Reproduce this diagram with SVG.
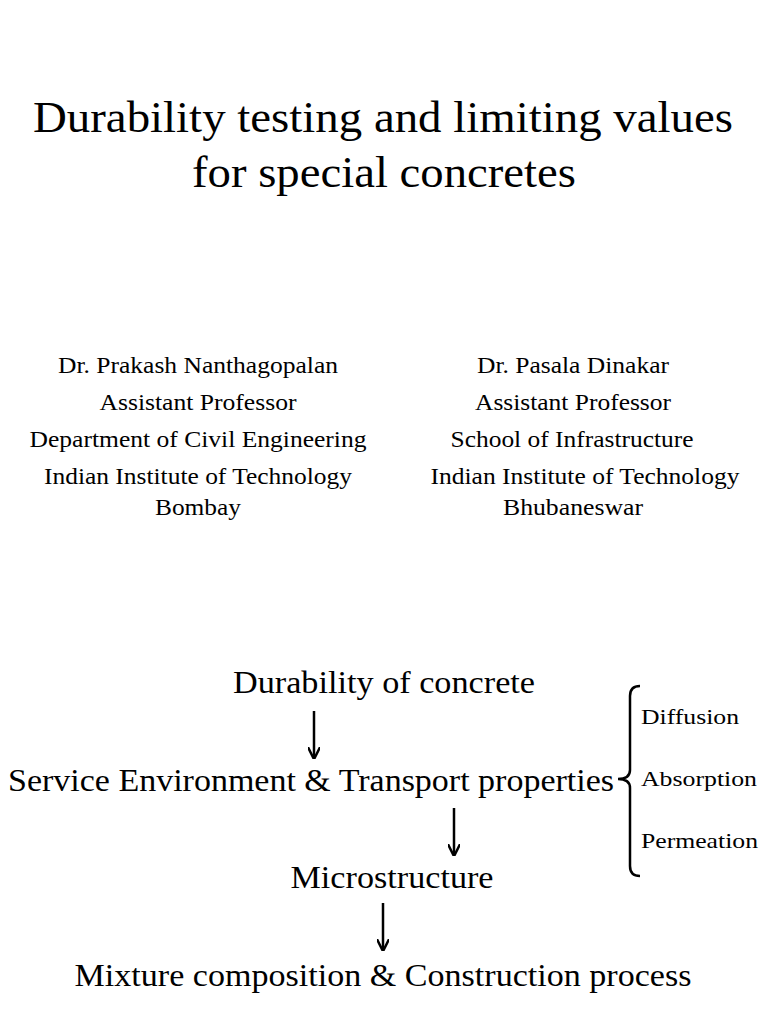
<svg xmlns="http://www.w3.org/2000/svg" width="768" height="1024" viewBox="0 0 768 1024">
<defs>
<style>
text{font-family:"Liberation Serif","Times New Roman",serif;fill:#000;text-anchor:middle}
.t{font-size:44px}.a{font-size:23.5px}.m{font-size:31px}.s{font-size:22px;text-anchor:start}
.c{stroke:#000;stroke-width:2.5;fill:none}
</style>
<marker id="ah" viewBox="0 0 10 10" refX="9" refY="5" markerWidth="5" markerHeight="5" orient="auto"><path d="M0,0 L10,5 L0,10" fill="none" stroke="#000" stroke-width="2"/></marker>
</defs>
<rect width="768" height="1024" fill="#fff"/>
<text class="t" x="383" y="132" textLength="700" lengthAdjust="spacingAndGlyphs">Durability testing and limiting values</text>
<text class="t" x="384" y="187" textLength="384" lengthAdjust="spacingAndGlyphs">for special concretes</text>
<g id="author1">
<text class="a" x="198" y="373" textLength="280" lengthAdjust="spacingAndGlyphs">Dr. Prakash Nanthagopalan</text>
<text class="a" x="198" y="410" textLength="197" lengthAdjust="spacingAndGlyphs">Assistant Professor</text>
<text class="a" x="198" y="447" textLength="337" lengthAdjust="spacingAndGlyphs">Department of Civil Engineering</text>
<text class="a" x="198" y="484" textLength="308" lengthAdjust="spacingAndGlyphs">Indian Institute of Technology</text>
<text class="a" x="198" y="515" textLength="86" lengthAdjust="spacingAndGlyphs">Bombay</text>
</g>
<g id="author2">
<text class="a" x="573" y="373" textLength="192" lengthAdjust="spacingAndGlyphs">Dr. Pasala Dinakar</text>
<text class="a" x="573" y="410" textLength="196" lengthAdjust="spacingAndGlyphs">Assistant Professor</text>
<text class="a" x="572" y="447" textLength="243" lengthAdjust="spacingAndGlyphs">School of Infrastructure</text>
<text class="a" x="585" y="484" textLength="309" lengthAdjust="spacingAndGlyphs">Indian Institute of Technology</text>
<text class="a" x="573" y="515" textLength="140" lengthAdjust="spacingAndGlyphs">Bhubaneswar</text>
</g>
<g id="n1"><text class="m" x="384" y="693" textLength="302" lengthAdjust="spacingAndGlyphs">Durability of concrete</text></g>
<g id="n2"><text class="m" x="311" y="791" textLength="606" lengthAdjust="spacingAndGlyphs">Service Environment &amp; Transport properties</text></g>
<g id="n3"><text class="m" x="392" y="888" textLength="203" lengthAdjust="spacingAndGlyphs">Microstructure</text></g>
<g id="n4"><text class="m" x="383" y="986" textLength="617" lengthAdjust="spacingAndGlyphs">Mixture composition &amp; Construction process</text></g>
<g id="side">
<text class="s" x="641" y="724" textLength="98" lengthAdjust="spacingAndGlyphs">Diffusion</text>
<text class="s" x="641" y="786" textLength="116" lengthAdjust="spacingAndGlyphs">Absorption</text>
<text class="s" x="641" y="848" textLength="117" lengthAdjust="spacingAndGlyphs">Permeation</text>
</g>
<g id="connectors">
<line class="c" x1="314" y1="711" x2="314" y2="758" marker-end="url(#ah)"/>
<line class="c" x1="454" y1="808" x2="454" y2="855" marker-end="url(#ah)"/>
<line class="c" x1="383" y1="903" x2="383" y2="950" marker-end="url(#ah)"/>
<path class="c" d="M640,686 Q630,686 630,696 L630,770 Q630,779 618,779 Q630,779 630,788 L630,866 Q630,876 640,876"/>
</g>
</svg>
